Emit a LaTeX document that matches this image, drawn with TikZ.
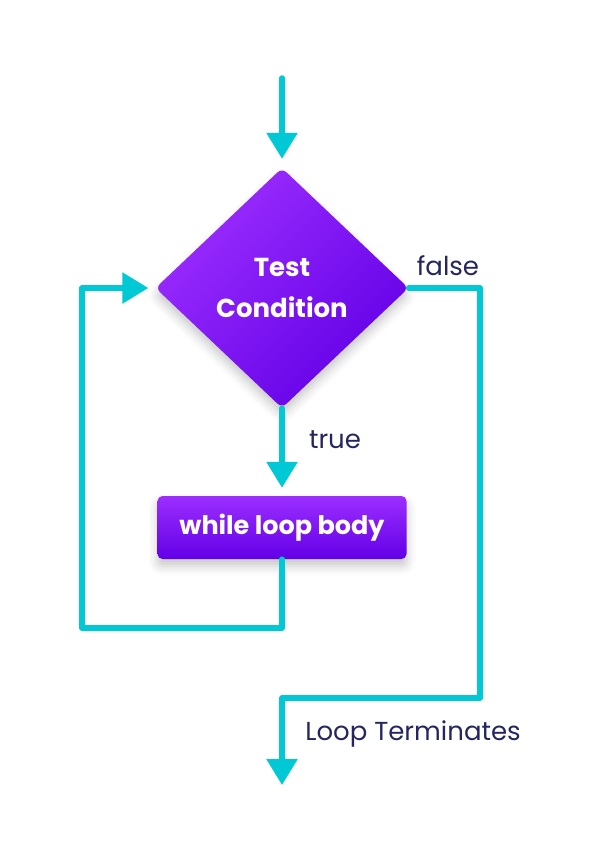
\documentclass[tikz,border=0pt]{standalone}
\usepackage{fontspec}
\setmainfont{Poppins}
\usetikzlibrary{shapes.geometric,arrows.meta,shadows.blur}
\definecolor{cyanline}{RGB}{0,200,212}
\definecolor{purpL}{RGB}{156,46,255}
\definecolor{purpD}{RGB}{98,0,230}
\definecolor{navy}{RGB}{37,38,94}
\tikzset{
  flow/.style={draw=cyanline, line width=5.5pt, line cap=round, line join=round,
    -{Triangle[width=30pt,length=26pt]}},
  lbl/.style={text=navy, font=\fontsize{26}{30}\selectfont, inner sep=0pt},
  shade/.style={blur shadow={shadow xshift=0pt, shadow yshift=-7pt, shadow blur radius=9pt, shadow opacity=22}},
}
\begin{document}
\begin{tikzpicture}[x=1pt,y=1pt]
\useasboundingbox (0,0) rectangle (604,-868);
\node[diamond, aspect=1.05, minimum width=253pt, minimum height=240pt, inner sep=0pt,
  rounded corners=6pt, top color=purpL, bottom color=purpD, shading angle=45, shade,
  text=white, align=center, font=\bfseries\fontsize{26}{41}\selectfont] (d) at (282,-288) {Test\\Condition};
\node[rectangle, minimum width=249pt, minimum height=63pt, inner sep=0pt, rounded corners=5pt,
  top color=purpL, bottom color=purpD, shade, text=white,
  font=\bfseries\fontsize{25.5}{30}\selectfont] (b) at (282,-527.5) {while loop body};
\coordinate (s) at (282,-78);
\coordinate (fe) at (282,-785);
\draw[flow, shorten >=9pt] (s) -- (d.north);
\draw[flow, shorten >=8pt] (d.south) -- (b.north);
\draw[flow, shorten >=7pt] (b.south) -- (282,-628) -- (82,-628) -- (82,-288) -- (d.west);
\draw[flow] (d.east) -- (480,-288) -- (480,-698) -- (282,-698) -- (fe);
\node[lbl] (lf) at (448,-266) {false};
\node[lbl] (lt) at (335,-440) {true};
\node[lbl] (lx) at (413,-734) {Loop Terminates};
\end{tikzpicture}
\end{document}
